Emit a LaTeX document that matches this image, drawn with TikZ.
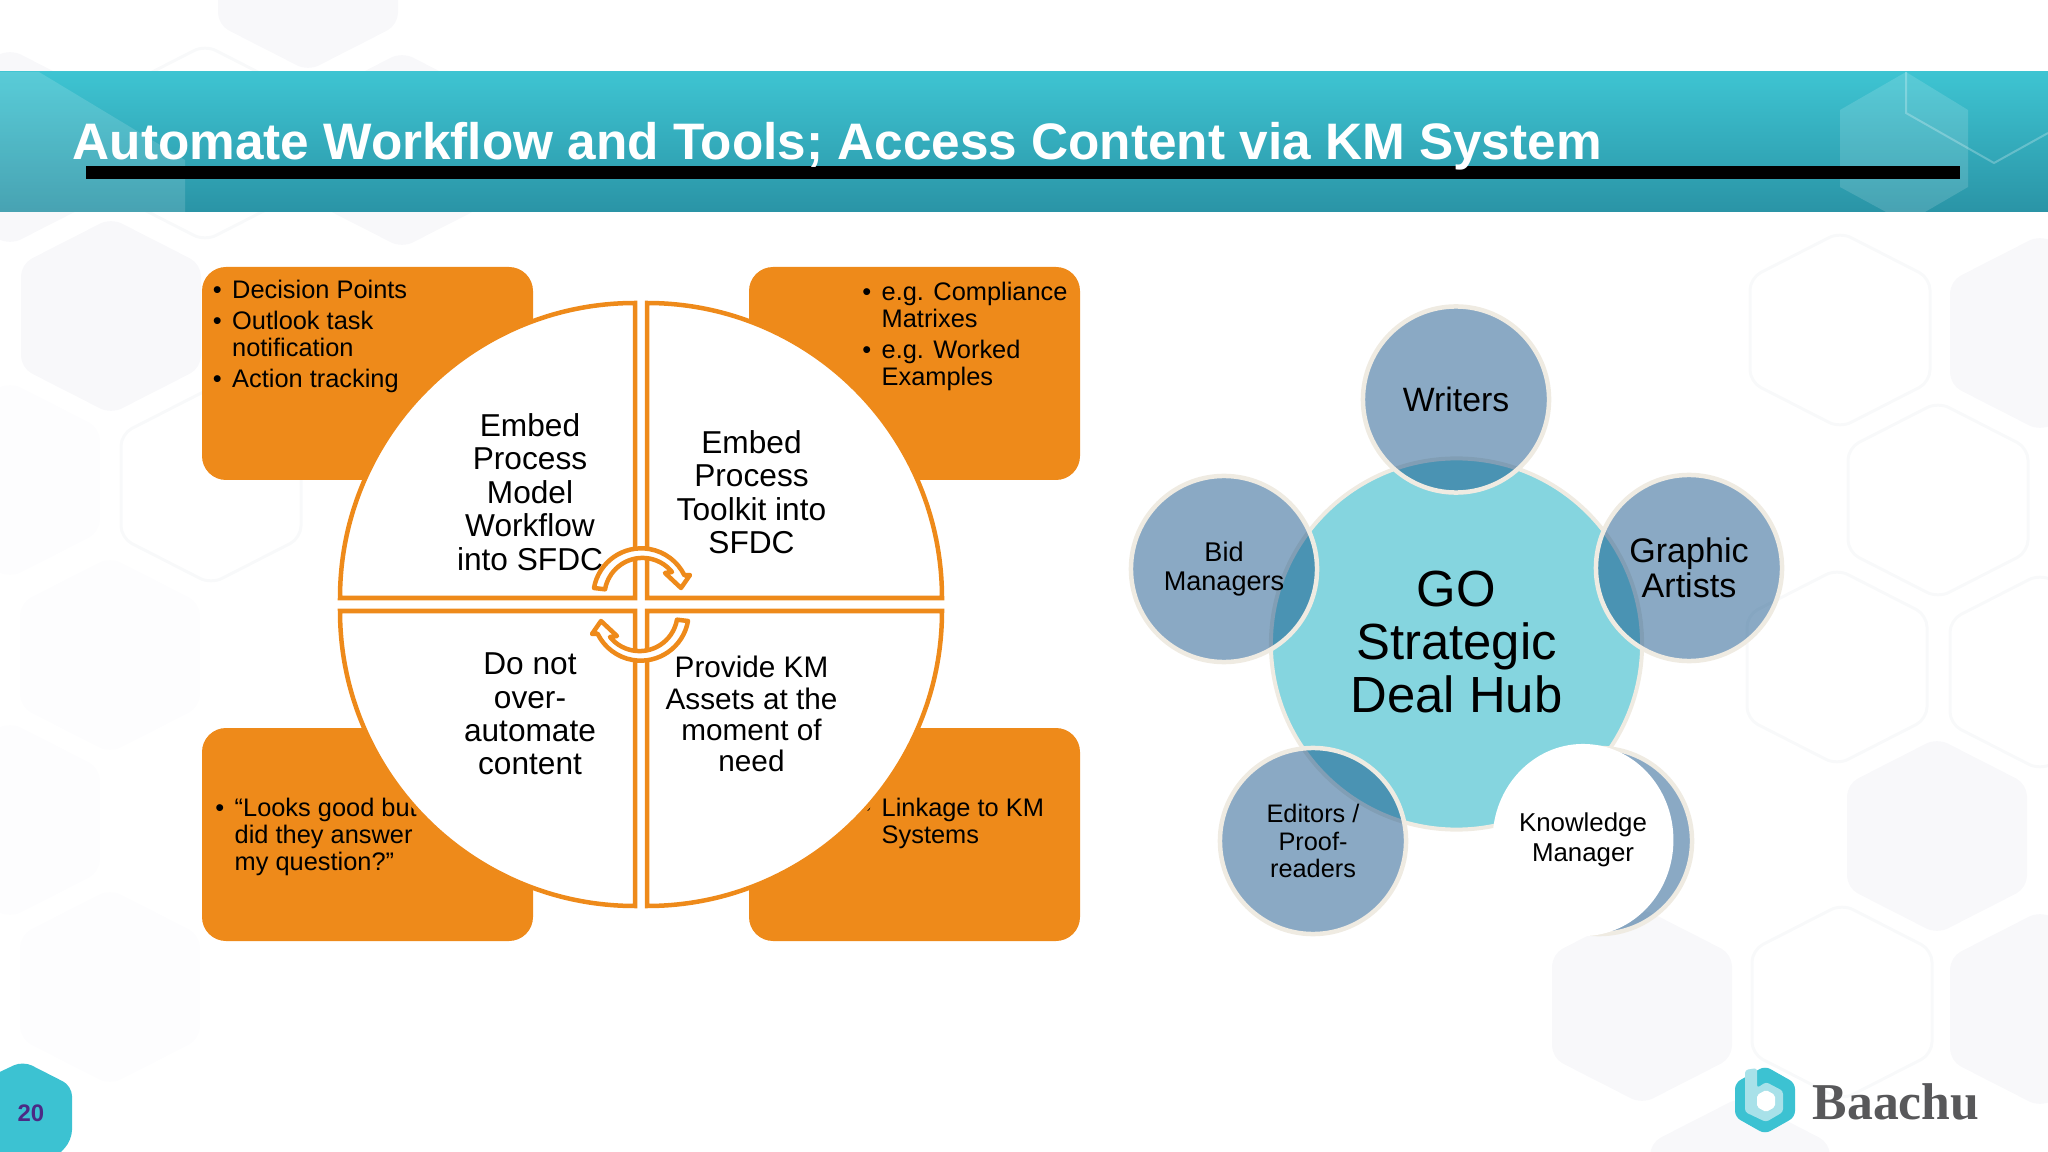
\documentclass[tikz,border=0pt]{standalone}
\usepackage{fontspec}
\setmainfont{Liberation Sans}
\newfontfamily\logofont{Liberation Serif}
\usepackage{tikz}
\usetikzlibrary{positioning,shapes.geometric}

\definecolor{bandtop}{HTML}{3EC4D2}
\definecolor{bandbot}{HTML}{2A94A6}
\definecolor{tileorange}{HTML}{EE8A1A}
\definecolor{hubcyan}{HTML}{85D5DF}
\definecolor{satblue}{RGB}{11,76,132}
\definecolor{ringgrey}{HTML}{EFEBE2}
\definecolor{hexfill}{HTML}{F8F8FA}
\definecolor{hexfaint}{HTML}{FDFDFE}
\definecolor{hexline}{HTML}{F8F9FA}
\definecolor{logocyan}{HTML}{3CC2D2}
\definecolor{logolight}{HTML}{A8E1E9}
\definecolor{logogrey}{HTML}{58585A}
\definecolor{pagepurple}{HTML}{4B2A85}

\newcommand{\hexpath}[2]{(#1,#2-98) -- (#1+90,#2-52) -- (#1+90,#2+52) -- (#1,#2+98) -- (#1-90,#2+52) -- (#1-90,#2-52) -- cycle}

\tikzset{
  tile/.style={fill=tileorange, rounded corners=0.24cm},
  quadrant/.style={draw=tileorange, fill=white, line width=0.045cm, line join=miter},
  turnarrow/.style={draw=tileorange, fill=white, line width=0.045cm, line join=round},
  quadtext/.style={font=\fontsize{9}{9.5}\selectfont, align=center, inner sep=0pt},
  tiletext/.style={font=\fontsize{7.22}{7.7}\selectfont, align=left, anchor=north west, inner sep=0pt},
  satnode/.style={circle, minimum size=1.86cm, inner sep=0pt, align=center, draw=ringgrey, line width=0.045cm, fill=satblue, fill opacity=0.48, draw opacity=1, text opacity=1},
}

\newcommand{\bul}{\llap{\textbullet\hspace{3pt}}}

\begin{document}
\begin{tikzpicture}[x=0.01cm, y=-0.01cm]
  \useasboundingbox (0,0) rectangle (2048,1152);
  \clip (0,0) rectangle (2048,1152);

  %background hexagons
  \foreach \cx/\cy in {308/-27, 111/316, 402/150, 10/147, 1937/836, 1642/1006, 2040/1009, 2040/333, 1740/1195}
    \fill[hexfill, rounded corners=0.12cm] \hexpath{\cx}{\cy};
  \foreach \cx/\cy in {10/480, 10/820, 110/987, 110/655}
    \fill[hexfaint, rounded corners=0.12cm] \hexpath{\cx}{\cy};
  \foreach \cx/\cy in {205/143, 211/486, 1837/667, 1842/1002, 1840/330, 1938/500, 2040/672}
    \draw[hexline, line width=0.03cm, rounded corners=0.12cm] \hexpath{\cx}{\cy};

  %title band
  \fill[top color=bandtop, bottom color=bandbot] (0,72) rectangle (2048,212);
  \fill[white, opacity=0.14] (39,72) -- (185,160) -- (185,212) -- (0,212) -- (0,72) -- cycle;
  \fill[white, opacity=0.14] (1906,72) -- (1968,110) -- (1968,187) -- (1925,212) -- (1886,212) -- (1840,187) -- (1840,110) -- cycle;
  \draw[white, opacity=0.25, line width=0.02cm] (1906,72) -- (1906,113) -- (1994,163) -- (2048,133);
  \fill[black] (86,166) rectangle (1960,179);
  \node at (72,160) [anchor=base west, inner sep=0pt, text=white, font=\fontsize{14.59}{16}\selectfont\bfseries] (title) {Automate Workflow and Tools; Access Content via KM System};

  %orange tiles
  \fill[tile] (202,267) rectangle (533,480);
  \fill[tile] (749,267) rectangle (1080,480);
  \fill[tile] (202,728) rectangle (533,941);
  \fill[tile] (749,728) rectangle (1080,941);

  \node at (231.5,279) [tiletext] (tile_tl) {\bul Decision Points\\[1.2pt]\bul Outlook task\\notification\\[1.2pt]\bul Action tracking};
  \node at (881,281) [tiletext] (tile_tr) {\bul e.g. Compliance\\Matrixes\\[1.2pt]\bul e.g. Worked\\Examples};
  \node at (234,797) [tiletext] (tile_bl) {\bul ``Looks good but\\did they answer\\my question?''};
  \node at (881,797) [tiletext] (tile_br) {\bul Linkage to KM\\Systems};

  %pie
  \draw[quadrant] (635,598) -- (340,598) arc[start angle=180, end angle=270, radius=295] -- cycle;
  \draw[quadrant] (647,598) -- (647,303) arc[start angle=270, end angle=360, radius=295] -- cycle;
  \draw[quadrant] (635,611) -- (635,906) arc[start angle=90, end angle=180, radius=295] -- cycle;
  \draw[quadrant] (647,611) -- (942,611) arc[start angle=0, end angle=90, radius=295] -- cycle;

  \node at (530,492) [quadtext] (q_model) {Embed\\Process\\Model\\Workflow\\into SFDC};
  \node at (751.5,492) [quadtext] (q_toolkit) {Embed\\Process\\Toolkit into\\SFDC};
  \node at (530,714) [quadtext] (q_automate) {Do not\\over-\\automate\\content};
  \node at (751.5,714) [quadtext, font=\fontsize{8.45}{8.85}\selectfont] (q_assets) {Provide KM\\Assets at the\\moment of\\need};

  \foreach \ang in {0,180}
    \draw[turnarrow, rotate around={\ang:(641,604.5)}] (594,588) arc[start angle=190, end angle=334, radius=48] -- (690,575) -- (681,588) -- (665,573) -- (672,572) arc[start angle=321, end angle=190, radius=38] -- cycle;

  %hub
  \node at (1456.5,644) [circle, minimum size=3.71cm, inner sep=0pt, fill=hubcyan, draw=ringgrey, line width=0.04cm] (hub) {};
  \node at (1456.5,642) [align=center, inner sep=0pt, font=\fontsize{14.45}{15.1}\selectfont] (hub_text) {GO\\Strategic\\Deal Hub};

  \node at (1456,399.5) [satnode, font=\fontsize{9.6}{10}\selectfont] (writers) {Writers};
  \node at (1224,569) [satnode, font=\fontsize{7.7}{8.3}\selectfont] (bid_mgr) {Bid\\Managers};
  \node at (1689,568) [satnode, font=\fontsize{9.7}{10.1}\selectfont] (artists) {Graphic\\Artists};
  \node at (1313,841) [satnode, font=\fontsize{7.2}{7.7}\selectfont] (editors) {Editors /\\Proof-\\readers};
  \node at (1599,841) [satnode] (km_back) {};
  \node at (1583,840) [ellipse, minimum width=1.60cm, minimum height=1.92cm, inner sep=0pt, fill=white, align=center, font=\fontsize{7.35}{8.6}\selectfont] (km) {Knowledge\\Manager};

  %footer
  \fill[logocyan, rounded corners=0.1cm] (-30,1086) -- (23,1061) -- (72,1086) -- (72,1140) -- (40,1175) -- (-30,1175) -- cycle;
  \node at (31,1113) [text=pagepurple, font=\fontsize{6.8}{8}\selectfont\bfseries, inner sep=0pt] (page_no) {20};

  \fill[logocyan, rounded corners=0.06cm] (1765,1066) -- (1795,1083) -- (1795,1117) -- (1765,1134) -- (1735,1117) -- (1735,1083) -- cycle;
  \fill[logolight, rounded corners=0.03cm] (1745,1070) -- (1757,1068) -- (1757,1088) -- (1766,1082) -- (1783,1091) -- (1783,1112) -- (1766,1122) -- (1745,1112) -- cycle;
  \fill[white, rounded corners=0.02cm] (1766,1090) -- (1775,1095) -- (1775,1107) -- (1766,1112) -- (1757,1107) -- (1757,1095) -- cycle;
  \node at (1812,1119) [anchor=base west, inner sep=0pt, text=logogrey, font=\logofont\fontsize{14.7}{16}\selectfont\bfseries] (brand) {Baachu};
\end{tikzpicture}
\end{document}
